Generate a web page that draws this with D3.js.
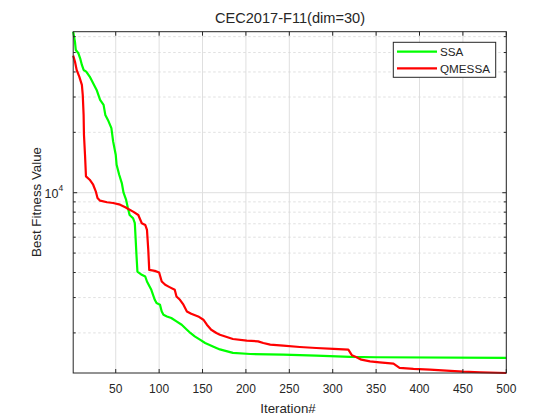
<!DOCTYPE html>
<html><head><meta charset="utf-8">
<script src="https://cdn.jsdelivr.net/npm/d3@7"></script>
<style>body{margin:0;background:#fff}svg{display:block}text{font-family:"Liberation Sans",Arial,sans-serif;fill:#262626}</style>
</head><body>
<svg id="c" width="560" height="420"></svg>
<script>
const title = "CEC2017-F11(dim=30)";
const xLabel = "Iteration#";
const yLabel = "Best Fitness Value";
const seriesNames = ["SSA", "QMESSA"];
const seriesColors = ["#00ff00", "#ff0000"];
const xTicks = [50,100,150,200,250,300,350,400,450,500];

const ssaIter = [1,3,4,7,9,11,13,16,20,24,28,32,36,38,41,45,47,50,51,54,57,59,62,64,66,70,72,73,74,75,80,84,86,89,91,93,95,97,101,103,105,109,114,120,126,132,136,141,147,153,162,170,185,205,243,281,320,350,500];
const ssaVal  = [63500,56650,51450,49550,46790,43340,40920,40180,37940,35140,32530,29020,27410,24430,23070,20980,18020,15460,13780,12290,11170,10000,9200,8400,7745,7459,7045,5816,4803,4045,3896,3821,3608,3406,3280,3097,2925,2817,2763,2559,2464,2416,2372,2281,2197,2074,1998,1921,1850,1781,1713,1655,1589,1570,1558,1540,1518,1512,1502];

const qmIter = [1,3,5,8,11,12,13,13.4,14.6,15.7,20,24,27,29,32,40,47,55,61,63,70,76,80,84,86,87.5,88.6,95,100,103,107,112,118,120,124,128,132,137,145,151,155,160,166,170,185,201,214,220,228,243,262,281,301,318,322,327,333,343,354,370,377,393,412,431,450,470,500];
const qmVal  = [48270,45060,40920,37940,34460,30730,24430,19440,15460,12070,11610,10960,10160,9410,9124,8960,8887,8716,8459,8364,8046,7745,7045,6909,6524,5188,4124,4077,3999,3608,3473,3383,3280,3039,2925,2763,2559,2492,2416,2326,2197,2074,1998,1959,1865,1829,1815,1781,1747,1727,1701,1682,1663,1650,1549,1518,1471,1443,1426,1405,1337,1322,1311,1297,1282,1273,1262];

const svg = d3.select("#c");
const L = 73.2, R = 506.3, T = 31.7, B = 373;
const x = d3.scaleLinear().domain([1,500]).range([L,R]);
const allVals = ssaVal.concat(qmVal);
const y = d3.scaleLog().domain(d3.extent(allVals)).range([B,T]);

const [ymin, ymax] = y.domain();
const minor = [], major = [];
for (let e = Math.floor(Math.log10(ymin)); e <= Math.ceil(Math.log10(ymax)); e++) {
  for (let m = 1; m <= 9; m++) {
    const v = m * Math.pow(10, e);
    if (v >= ymin && v <= ymax) (m === 1 ? major : minor).push(v);
  }
}

const g = svg.append("g");
g.selectAll(".xg").data(xTicks).enter().append("line")
  .attr("x1", d=>x(d)).attr("x2", d=>x(d)).attr("y1", T).attr("y2", B)
  .attr("stroke", "#dfdfdf").attr("stroke-width", 1);
g.selectAll(".ymg").data(minor).enter().append("line")
  .attr("x1", L).attr("x2", R).attr("y1", d=>y(d)).attr("y2", d=>y(d))
  .attr("stroke", "#d8d8d8").attr("stroke-width", 0.8).attr("stroke-dasharray", "2.5,2.5");
g.selectAll(".yMg").data(major).enter().append("line")
  .attr("x1", L).attr("x2", R).attr("y1", d=>y(d)).attr("y2", d=>y(d))
  .attr("stroke", "#dfdfdf").attr("stroke-width", 1);

const line = d3.line().x(d=>x(d[0])).y(d=>y(d[1]));
const ssaData = ssaIter.map((d,i)=>[d, ssaVal[i]]);
const qmData = qmIter.map((d,i)=>[d, qmVal[i]]);
[ssaData, qmData].forEach((data, i) => {
  g.append("path").datum(data).attr("d", line).attr("fill","none")
    .attr("stroke", seriesColors[i]).attr("stroke-width", 2.2).attr("stroke-linejoin","round");
});

const ax = svg.append("g").attr("stroke", "#262626").attr("stroke-width", 1);
ax.append("rect").attr("x", L).attr("y", T).attr("width", R-L).attr("height", B-T).attr("fill","none");
xTicks.forEach(t => {
  ax.append("line").attr("x1", x(t)).attr("x2", x(t)).attr("y1", B).attr("y2", B-4);
  ax.append("line").attr("x1", x(t)).attr("x2", x(t)).attr("y1", T).attr("y2", T+4);
});
major.forEach(t => {
  ax.append("line").attr("x1", L).attr("x2", L+4).attr("y1", y(t)).attr("y2", y(t));
  ax.append("line").attr("x1", R).attr("x2", R-4).attr("y1", y(t)).attr("y2", y(t));
});
minor.forEach(t => {
  ax.append("line").attr("x1", L).attr("x2", L+2.5).attr("y1", y(t)).attr("y2", y(t));
  ax.append("line").attr("x1", R).attr("x2", R-2.5).attr("y1", y(t)).attr("y2", y(t));
});

svg.selectAll(".xl").data(xTicks).enter().append("text")
  .attr("x", d=>x(d)).attr("y", 392.5).attr("text-anchor","middle")
  .attr("font-size", 12).text(d=>d);
major.forEach(t => {
  const tx = svg.append("text").attr("x", L-10).attr("y", y(t)+5).attr("text-anchor","end").attr("font-size", 12.5);
  tx.append("tspan").text("10");
  tx.append("tspan").attr("dy", -6.5).attr("font-size", 8.5).text(Math.round(Math.log10(t)));
});

svg.append("text").attr("x", 290).attr("y", 23).attr("text-anchor","middle").attr("font-size", 14.6).text(title);
svg.append("text").attr("x", 288).attr("y", 413).attr("text-anchor","middle").attr("font-size", 13.3).text(xLabel);
svg.append("text").attr("transform", "translate(41,202) rotate(-90)").attr("text-anchor","middle").attr("font-size", 13.3).text(yLabel);

const lg = svg.append("g");
lg.append("rect").attr("x", 393.3).attr("y", 42.3).attr("width", 102.4).attr("height", 35)
  .attr("fill","#fff").attr("stroke","#262626").attr("stroke-width",1);
seriesNames.forEach((n,i) => {
  const yy = 51.7 + i*16.6;
  lg.append("line").attr("x1", 397).attr("x2", 437).attr("y1", yy).attr("y2", yy)
    .attr("stroke", seriesColors[i]).attr("stroke-width", 2.2);
  lg.append("text").attr("x", 440).attr("y", yy+4.2).attr("font-size", 11.7).text(n);
});
</script>
</body></html>
